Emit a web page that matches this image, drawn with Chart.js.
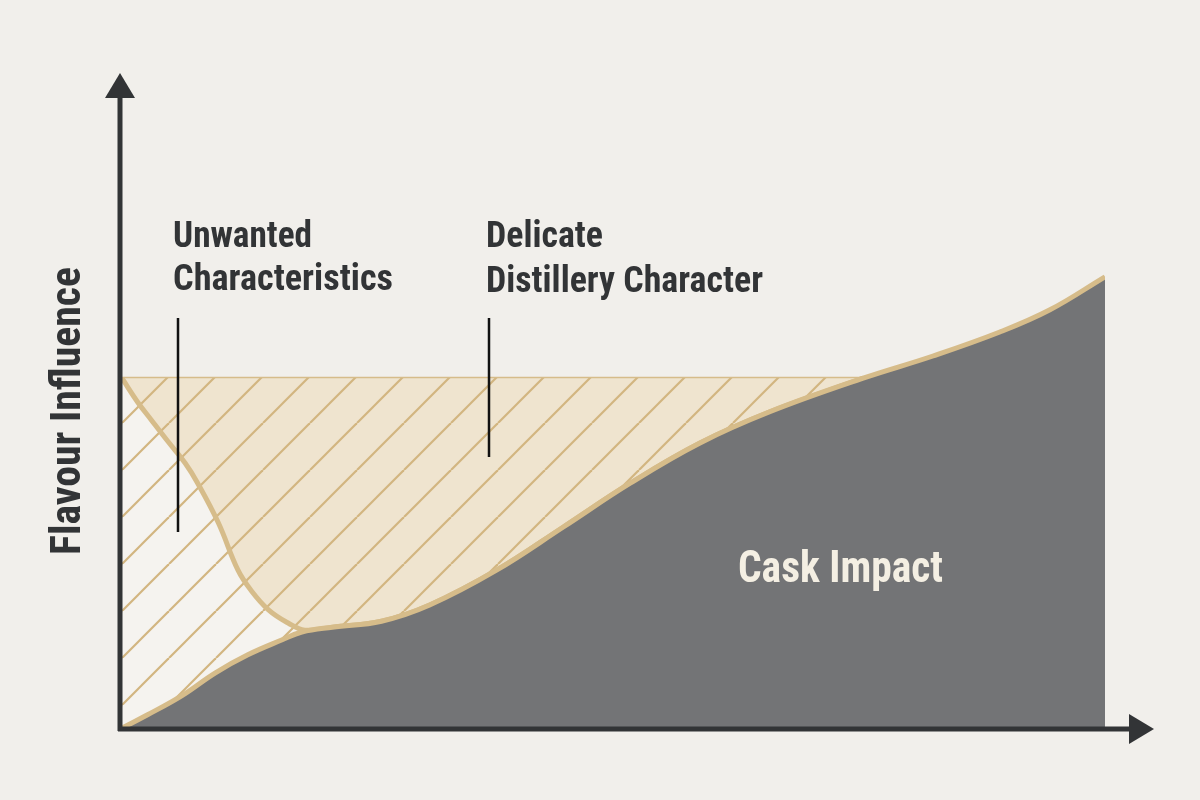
<!DOCTYPE html>
<html>
<head>
<meta charset="utf-8">
<script src="https://cdn.jsdelivr.net/npm/chart.js@4.4.1/dist/chart.umd.min.js"></script>
<style>
  html, body { margin: 0; padding: 0; background: #f1efeb; }
  canvas { display: block; }
</style>
</head>
<body>
<canvas id="chart" width="1200" height="800"></canvas>
<script>
// time in cask (x, 0-100) vs flavour influence (y, 0-100)
const caskX = [0, 2.6, 6.1, 9.5, 12.8, 16.3, 18.3, 21.4, 26.4, 31.3, 38.1, 44.9, 51.7, 58.8, 65.9, 75.4, 82.5, 89.3, 94.4, 100];
const caskY = [0, 2.2, 5.4, 9.2, 12.2, 14.7, 16.0, 16.8, 17.8, 20.5, 26.3, 33.5, 40.8, 47.5, 52.7, 58.3, 62.0, 66.0, 69.7, 75.2];

const unwantedX = [0, 1.6, 3.0, 4.7, 6.4, 7.7, 9.8, 11.8, 13.1, 14.9, 16.9, 18.6];
const unwantedY = [58.3, 54.3, 51.3, 47.7, 44.2, 40.8, 34.2, 26.3, 23.0, 19.7, 17.5, 16.3];

const delicateLevel = 58.3;
const delicateEnd = 75.4;

const labels = {
    unwanted: ['Unwanted', 'Characteristics'],
    delicate: ['Delicate', 'Distillery Character'],
    cask: 'Cask Impact',
    yTitle: 'Flavour Influence'
};

const tan = '#d6bc8a';
const grey = '#737476';
const ink = '#323436';

function pts(xs, ys) {
    return xs.map((x, i) => ({x: x, y: ys[i]}));
}

const caskPts = pts(caskX, caskY);
const unwantedPts = pts(unwantedX, unwantedY);
// lower edge of the delicate band: unwanted curve, then the cask curve up to where it meets the band top
const lastUnwanted = unwantedX[unwantedX.length - 1];
const delicateLower = unwantedPts.concat(caskPts.filter(p => p.x > lastUnwanted + 1 && p.x <= delicateEnd));
const delicateTop = [{x: 0, y: delicateLevel}, {x: delicateEnd, y: delicateLevel}];

function hatch(base) {
    const size = 47;
    const c = document.createElement('canvas');
    c.width = size;
    c.height = size;
    const g = c.getContext('2d');
    g.fillStyle = base;
    g.fillRect(0, 0, size, size);
    g.strokeStyle = '#d2b580';
    g.lineWidth = 2.2;
    for (let k = -size; k <= size; k += size) {
        g.beginPath();
        g.moveTo(k, size);
        g.lineTo(k + size, 0);
        g.stroke();
    }
    const p = g.createPattern(c, 'repeat');
    p.setTransform(new DOMMatrix().translate(28, 0));
    return p;
}

const decor = {
    id: 'decor',
    afterDatasetsDraw(chart) {
        const ctx = chart.ctx;
        const a = chart.chartArea;
        ctx.save();

        // axes with arrow heads
        ctx.strokeStyle = ink;
        ctx.fillStyle = ink;
        ctx.lineWidth = 5;
        ctx.beginPath();
        ctx.moveTo(a.left - 2, a.bottom + 3);
        ctx.lineTo(a.left - 2, 95);
        ctx.moveTo(a.left - 4, a.bottom + 1);
        ctx.lineTo(1132, a.bottom + 1);
        ctx.stroke();
        ctx.beginPath();
        ctx.moveTo(a.left - 2, 73);
        ctx.lineTo(a.left - 17, 98);
        ctx.lineTo(a.left + 13, 98);
        ctx.closePath();
        ctx.fill();
        ctx.beginPath();
        ctx.moveTo(1154, a.bottom + 1);
        ctx.lineTo(1129, a.bottom - 14);
        ctx.lineTo(1129, a.bottom + 16);
        ctx.closePath();
        ctx.fill();

        // leader lines
        ctx.strokeStyle = '#111';
        ctx.lineWidth = 2.5;
        ctx.beginPath();
        ctx.moveTo(178, 318);
        ctx.lineTo(178, 532);
        ctx.moveTo(489, 318);
        ctx.lineTo(489, 457);
        ctx.stroke();

        // annotation text
        const narrow = "'Liberation Sans Narrow', 'Arial Narrow', 'Roboto Condensed', 'DejaVu Sans Condensed', sans-serif";
        ctx.fillStyle = ink;
        ctx.textBaseline = 'alphabetic';
        ctx.textAlign = 'left';
        ctx.font = 'bold 37px ' + narrow;
        ctx.fillText(labels.unwanted[0], 173, 247, 139);
        ctx.fillText(labels.unwanted[1], 173, 290, 220);
        ctx.fillText(labels.delicate[0], 486, 247, 117);
        ctx.fillText(labels.delicate[1], 486, 292, 277);

        ctx.fillStyle = '#f4efe3';
        ctx.font = 'bold 45px ' + narrow;
        ctx.fillText(labels.cask, 738, 582, 205);

        ctx.fillStyle = ink;
        ctx.font = 'bold 42px ' + narrow;
        ctx.translate(80, 411);
        ctx.rotate(-Math.PI / 2);
        ctx.textAlign = 'center';
        ctx.fillText(labels.yTitle, 0, 0, 288);
        ctx.restore();
    }
};

new Chart(document.getElementById('chart'), {
    type: 'line',
    data: {
        datasets: [{
            label: 'Cask Impact',
            data: caskPts,
            order: 1,
            borderColor: tan,
            borderWidth: 5,
            backgroundColor: grey,
            fill: 'origin',
            tension: 0.4,
            pointRadius: 0,
            clip: {left: 0, top: false, right: 0, bottom: 0}
        }, {
            label: 'Unwanted Characteristics',
            data: delicateLower,
            order: 2,
            borderColor: tan,
            borderWidth: 5,
            backgroundColor: hatch('#efe4cf'),
            fill: {value: delicateLevel},
            tension: 0.4,
            pointRadius: 0
        }, {
            label: 'Delicate Distillery Character',
            data: delicateTop,
            order: 3,
            borderColor: tan,
            borderWidth: 3,
            backgroundColor: hatch('#f5f3ef'),
            fill: 'origin',
            pointRadius: 0
        }]
    },
    options: {
        responsive: false,
        animation: false,
        devicePixelRatio: 1,
        layout: {
            padding: {left: 122, right: 95, top: 128, bottom: 72}
        },
        scales: {
            x: {type: 'linear', min: 0, max: 100, display: false},
            y: {type: 'linear', min: 0, max: 100, display: false}
        },
        plugins: {
            legend: {display: false},
            tooltip: {enabled: false}
        }
    },
    plugins: [decor]
});
</script>
</body>
</html>
